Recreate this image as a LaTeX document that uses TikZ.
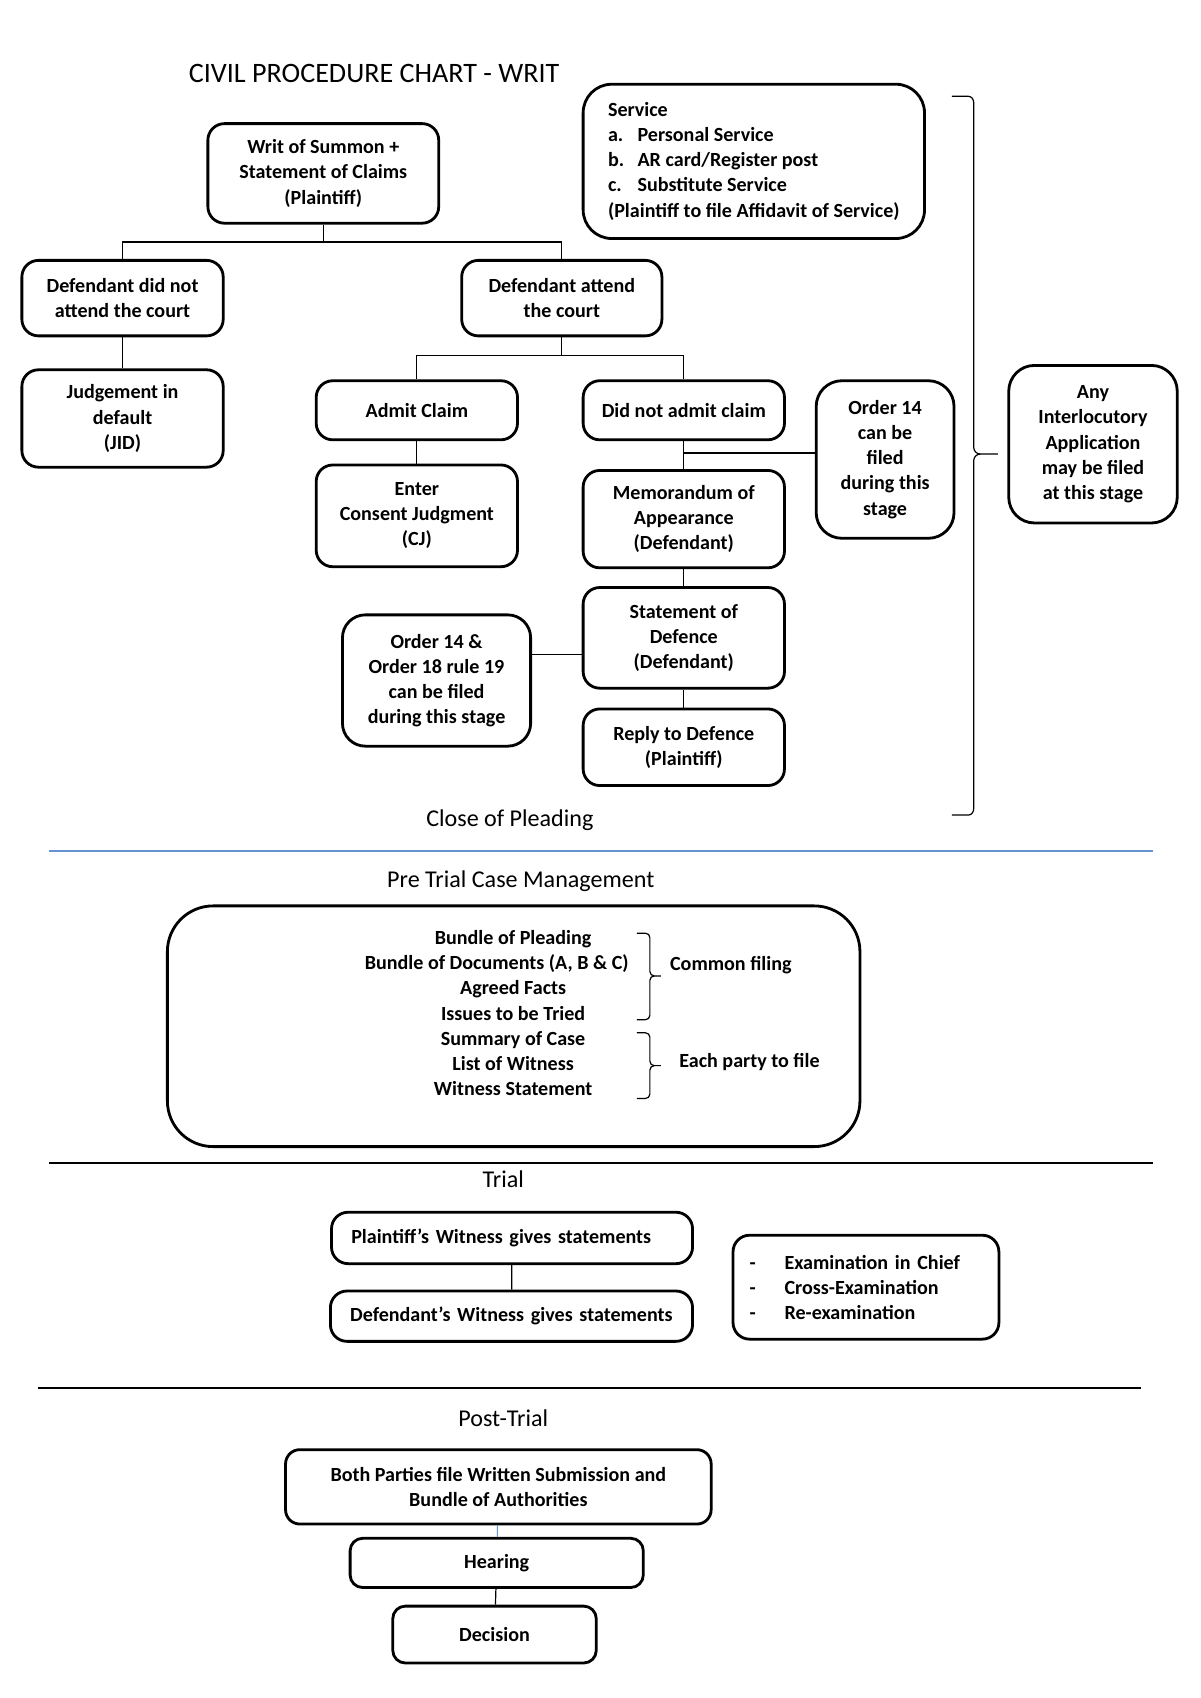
\documentclass[tikz,border=0pt]{standalone}
\usepackage{fontspec}
\setmainfont{Carlito}
\usetikzlibrary{calc}
\newcommand{\U}{0.019143cm}
\definecolor{sepblue}{RGB}{100,146,210}
\begin{document}
\begin{tikzpicture}[x=0.019143cm,y=-0.019143cm,
  box/.style={draw,line width=1.4pt,rounded corners=0.29cm,inner sep=1pt,
    font=\bfseries\fontsize{10}{12.5}\selectfont,align=center},
  bx/.style 2 args={minimum width=#1*\U,minimum height=#2*\U},
  hdr/.style={font=\fontsize{12}{14.5}\selectfont,inner sep=0pt},
  lbl/.style={font=\bfseries\fontsize{10}{12.5}\selectfont,inner sep=0pt,align=center},
  conn/.style={line width=0.6pt},
  sep/.style={line width=0.9pt},
  brace/.style={line width=0.6pt},
]
\useasboundingbox (0,0) rectangle (1097,1552);

% title
\node[font=\fontsize{14}{17}\selectfont,inner sep=0pt] (title) at (342,67) {CIVIL PROCEDURE CHART - WRIT};

% pleading stage
\node[box,bx={211}{91}] (A) at (295.5,158.5) {Writ of Summon +\\Statement of Claims\\(Plaintiff)};
\node[box,bx={312}{141},rounded corners=0.5cm,align=left] (S) at (689,147.5)
  {Service\\\makebox[0.517cm][l]{a.}Personal Service\\\makebox[0.517cm][l]{b.}AR card/Register post\\\makebox[0.517cm][l]{c.}Substitute Service\\(Plaintiff to file Affidavit of Service)};
\node[box,bx={184}{69}] (B) at (112,272.5) {Defendant did not\\attend the court};
\node[box,bx={183}{69}] (D) at (513.5,272.5) {Defendant attend\\the court};
\node[box,bx={184}{89}] (C) at (112,382.5) {Judgement in\\default\\(JID)};
\node[box,bx={184}{54}] (AC) at (381,375) {Admit Claim};
\node[box,bx={184}{54}] (DN) at (625,375) {Did not admit claim};
\node[box,bx={126}{144},rounded corners=0.45cm] (O14) at (809,420) {Order 14\\can be\\filed\\during this\\stage};
\node[box,bx={154}{144},rounded corners=0.45cm] (AI) at (999,406) {Any\\Interlocutory\\Application\\may be filed\\at this stage};
\node[box,bx={184}{93}] (EC) at (381,471.5) {Enter\\Consent Judgment\\(CJ)};
\node[box,bx={184}{89}] (MA) at (625,474.5) {Memorandum of\\Appearance\\(Defendant)};
\node[box,bx={184}{92}] (SD) at (625,583) {Statement of\\Defence\\(Defendant)};
\node[box,bx={172}{120},rounded corners=0.4cm] (O18) at (399,622) {Order 14 \&\\Order 18 rule 19\\can be filed\\during this stage};
\node[box,bx={184}{70}] (RD) at (625,683) {Reply to Defence\\(Plaintiff)};

\draw[conn] (A.south) -- ++(0,16) -| (B.north);
\draw[conn] (A.south) -- ++(0,16) -| (D.north);
\draw[conn] (B) -- (C);
\draw[conn] (D.south) -- ++(0,17) -| (AC.north);
\draw[conn] (D.south) -- ++(0,17) -| (DN.north);
\draw[conn] (AC) -- (EC);
\draw[conn] (DN) -- (MA);
\draw[conn] (O14.west) ++(0,-6) coordinate (o14j) -- (o14j -| DN.south);
\draw[conn] (MA) -- (SD);
\draw[conn] (SD) -- (RD);
\draw[conn] (SD.west) ++(0,15) coordinate (sdj) -- (sdj -| O18.east);

% big brace
\draw[brace] (870,88) -- (885,88) to[out=0,in=90] (890,94) -- (890,409) to[out=-90,in=180] (896,415) -- (912,415);
\draw[brace] (896,415) to[out=180,in=90] (890,421) -- (890,739) to[out=-90,in=0] (885,745) -- (870,745);

\node[hdr] (close) at (466,750) {Close of Pleading};
\draw[sepblue,line width=1.2pt] (45,778) -- (1054,778);

% pre trial
\node[hdr] (pre) at (476,805) {Pre Trial Case Management};
\node[draw,line width=1.4pt,rounded corners=0.8cm,bx={633}{220}] (PT) at (469.5,938) {};
\node[lbl] (list) at (469,926) {Bundle of Pleading\\Bundle of Documents (A, B \& C)\makebox[0.574cm]{}\\Agreed Facts\\Issues to be Tried\\Summary of Case\\List of Witness\\Witness Statement};
\draw[brace] (582,853) -- (590,853) to[out=0,in=90] (594,857) -- (594,888) to[out=-90,in=180] (598,892) -- (604,892);
\draw[brace] (598,892) to[out=180,in=90] (594,896) -- (594,928) to[out=-90,in=0] (590,932) -- (582,932);
\draw[brace] (582,944) -- (590,944) to[out=0,in=90] (594,948) -- (594,970) to[out=-90,in=180] (598,974) -- (604,974);
\draw[brace] (598,974) to[out=180,in=90] (594,978) -- (594,1000) to[out=-90,in=0] (590,1004) -- (582,1004);
\node[lbl] (common) at (668,882) {Common filing};
\node[lbl] (each) at (685,971) {Each party to file};

\draw[sep] (45,1063) -- (1054,1063);

% trial
\node[hdr] (trial) at (460,1078) {Trial};
\node[box,bx={330}{47},align=left,text width=5.628cm,inner xsep=0.345cm] (PW) at (468,1131.5) {Plaintiff’s Witness gives statements};
\node[box,bx={331}{46},align=left,text width=5.647cm,inner xsep=0.345cm] (DW) at (467.5,1203) {Defendant’s Witness gives statements};
\draw[conn] (PW) -- (DW);
\node[box,bx={243}{95},align=left,text width=4.077cm,inner xsep=0.287cm] (EX) at (791.5,1176.5)
  {\makebox[0.613cm][l]{-}Examination in Chief\\\makebox[0.613cm][l]{-}Cross-Examination\\\makebox[0.613cm][l]{-}Re-examination};

\draw[sep] (35,1269) -- (1043,1269);

% post trial
\node[hdr] (post) at (460,1296) {Post-Trial};
\node[box,bx={389}{68},rounded corners=0.25cm] (BP) at (455.5,1359) {Both Parties file Written Submission and\\Bundle of Authorities};
\node[box,bx={268}{45},rounded corners=0.22cm] (H) at (454,1428.5) {Hearing};
\node[box,bx={186}{52},rounded corners=0.22cm] (Dec) at (452,1494) {Decision};
\draw[sepblue,line width=0.5pt] (BP) -- (H);
\draw[conn] (H) -- (Dec);
\end{tikzpicture}
\end{document}
